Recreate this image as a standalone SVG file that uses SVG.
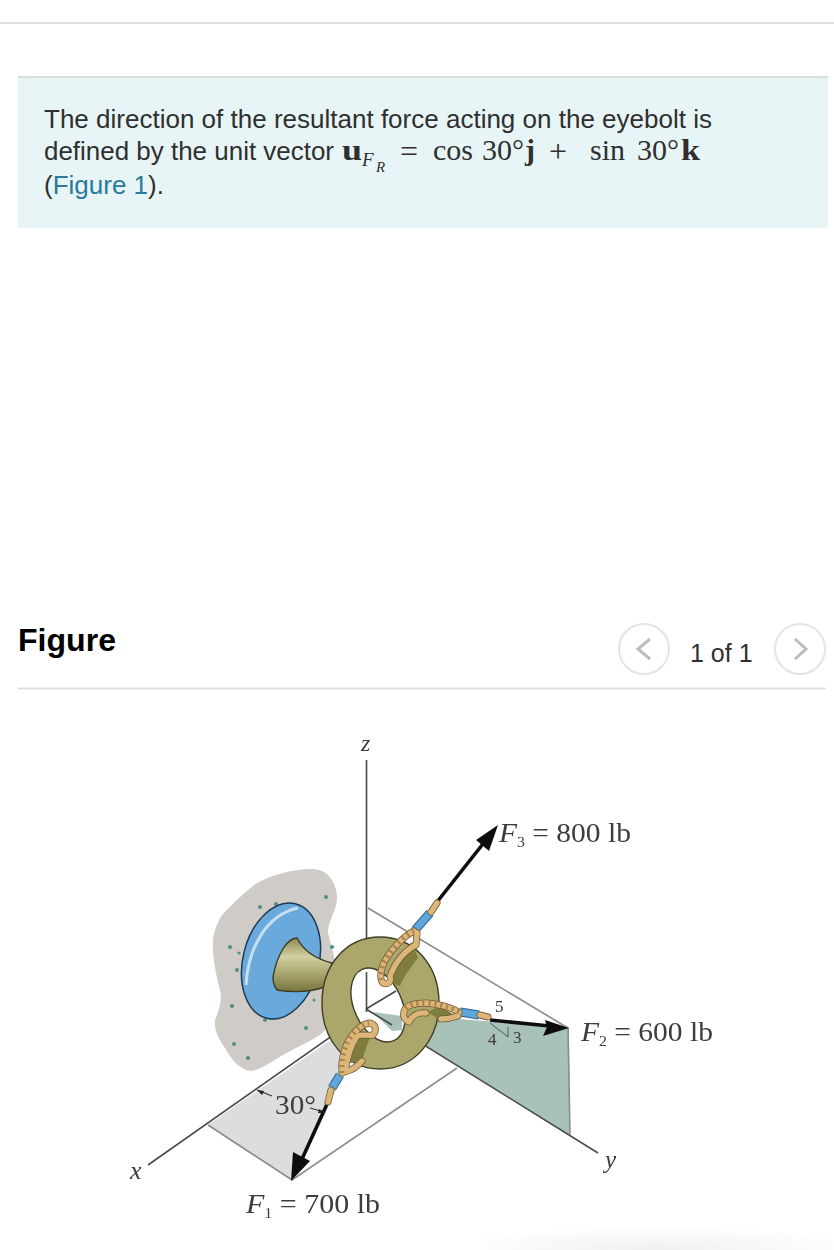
<svg xmlns="http://www.w3.org/2000/svg" width="834" height="1250" viewBox="0 0 834 1250">
<style>
.s{font-family:"Liberation Sans",Arial,sans-serif;fill:#2f2f2f}
.m{font-family:"Liberation Serif","Times New Roman",serif;fill:#2f2f2f}
.f{font-family:"Liberation Serif","Times New Roman",serif;fill:#3c3c3c}
.fi{font-style:italic}
.ax{fill:none;stroke:#4a4a4a;stroke-width:1.6}
.gl{fill:none;stroke:#8c8c8c;stroke-width:1.6}
.fa{fill:none;stroke:#111;stroke-width:3.6}
.ah{fill:#111}
.r1{fill:none;stroke:#6e5a3a;stroke-width:7;stroke-linecap:round;stroke-linejoin:round}
.r2{fill:none;stroke:#dcb678;stroke-width:5.4;stroke-linecap:round;stroke-linejoin:round}
.r3{fill:none;stroke:#a9824a;stroke-width:5;stroke-dasharray:2 4}
.sl{fill:none;stroke:#2f5f8f;stroke-width:9}
.sl2{fill:none;stroke:#5ea6dc;stroke-width:7}
.sh{fill:#7f7d3c}
.nav{fill:#fff;stroke:#e4e4e4;stroke-width:2}
.chev{fill:none;stroke:#bdbdbd;stroke-width:3}
.rule{stroke:#dfdfdf;stroke-width:2}
</style>
<defs>
<linearGradient id="sh" x1="0" y1="0" x2="0" y2="1"><stop offset="0" stop-color="#8c8a52"/><stop offset=".35" stop-color="#d2d0a2"/><stop offset=".7" stop-color="#a3a168"/><stop offset="1" stop-color="#77753f"/></linearGradient>
<radialGradient id="cor" cx=".5" cy="1" r=".6"><stop offset="0" stop-color="#f0f0f0"/><stop offset="1" stop-color="#fff"/></radialGradient>
<filter id="b" x="-5%" y="-5%" width="110%" height="110%"><feGaussianBlur stdDeviation=".65"/></filter>
</defs>
<rect width="834" height="1250" fill="#fff"/>
<rect x="480" y="1210" width="354" height="40" fill="url(#cor)"/>
<line class="rule" x1="0" y1="23" x2="834" y2="23"/>
<g id="prompt">
<rect x="18" y="77" width="810" height="151" fill="#e8f5f6"/>
<line x1="18" y1="77" x2="828" y2="77" stroke="#dcdcdc" stroke-width="2"/>
<text class="s" x="44" y="128" font-size="26" textLength="668" lengthAdjust="spacingAndGlyphs">The direction of the resultant force acting on the eyebolt is</text>
<text class="s" x="44" y="160" font-size="26" textLength="290" lengthAdjust="spacingAndGlyphs">defined by the unit vector</text>
<text class="m" x="342" y="160" font-size="30" font-weight="bold" textLength="20" lengthAdjust="spacingAndGlyphs">u</text>
<text class="m fi" x="362" y="166" font-size="19">F</text>
<text class="m fi" x="376" y="172" font-size="15">R</text>
<text class="m" x="400" y="162" font-size="32">=</text>
<text class="m" x="433" y="160" font-size="30">cos</text>
<text class="m" x="482" y="160" font-size="30">30°</text>
<text class="m" x="525" y="160" font-size="30" font-weight="bold">j</text>
<text class="m" x="549" y="162" font-size="32">+</text>
<text class="m" x="590" y="160" font-size="30">sin</text>
<text class="m" x="637" y="160" font-size="30">30°</text>
<text class="m" x="681" y="160" font-size="30" font-weight="bold" textLength="19" lengthAdjust="spacingAndGlyphs">k</text>
<text class="s" x="44" y="194" font-size="26">(<tspan fill="#2b7a9b">Figure 1</tspan>).</text>
</g>
<g id="figure-header">
<text x="18" y="651" font-family="'Liberation Sans',Arial,sans-serif" font-size="32" font-weight="bold" fill="#000" textLength="98" lengthAdjust="spacingAndGlyphs">Figure</text>
<circle class="nav" cx="644" cy="649" r="25"/>
<path class="chev" d="M650 639L638 649L650 659"/>
<text class="s" x="690" y="662" font-size="25">1 of 1</text>
<circle class="nav" cx="800" cy="649" r="25"/>
<path class="chev" d="M795 639L806 649L795 659"/>
<line class="rule" x1="18" y1="688.500" x2="826" y2="688.500"/>
</g>
<g id="figure" filter="url(#b)">
<path id="plane-x" d="M208 1125L292 1180L340 1082L345 1030Z" fill="#dcdddf"/>
<path id="plane-y" d="M372 1012L569 1028L570 1135L432 1050Z" fill="#a8c1b9"/>
<path id="wall" d="M308 869C322 868 334 874 337 895C338 910 328 920 328 932C330 945 334 950 335 965C338 990 338 1005 333 1013C330 1025 326 1032 315 1038C305 1044 295 1048 285 1054C270 1062 262 1070 250 1071C238 1068 232 1060 225 1048C218 1038 214 1030 215 1020C220 1008 222 1000 220 990C216 975 212 955 213 940C214 930 218 922 222 915C232 905 244 892 257 883C272 875 290 870 308 869Z" fill="#cfcbc7"/>
<g id="wall-dots" fill="#4f9080"><circle cx="260" cy="907" r="2"/><circle cx="276" cy="904" r="2"/><circle cx="326" cy="897" r="2"/><circle cx="230" cy="947" r="2"/><circle cx="239" cy="953" r="1.600"/><circle cx="237" cy="970" r="2"/><circle cx="332" cy="947" r="2"/><circle cx="232" cy="1006" r="2"/><circle cx="234" cy="1044" r="2"/><circle cx="248" cy="1058" r="2"/><circle cx="265" cy="1020" r="2"/><circle cx="306" cy="1028" r="2"/><circle cx="314" cy="1000" r="1.500"/></g>
<g id="connectors">
<line class="ax" x1="366.500" y1="760" x2="366.500" y2="1012"/>
<line class="ax" x1="148" y1="1165" x2="396" y2="991"/>
<line class="ax" x1="366" y1="1009" x2="598" y2="1153"/>
<path class="gl" d="M368 908L568 1028L570 1135M208 1125L292 1180L457 1068"/>
<line class="fa" x1="328" y1="1102" x2="297" y2="1170"/>
<path class="ah" d="M291 1181L293 1152L310 1161Z"/>
<line class="fa" x1="437" y1="902" x2="490" y2="835"/>
<path class="ah" d="M498 825L489 851L476 840Z"/>
<line class="fa" x1="490" y1="1020" x2="550" y2="1026"/>
<path class="ah" d="M569 1028L543 1036L547 1027L545 1020Z"/>
</g>
<g id="eyebolt">
<ellipse cx="281" cy="961" rx="38" ry="59" transform="rotate(14 281 961)" fill="#6aa9dc" stroke="#1f3a52" stroke-width="1.500"/>
<path d="M246 985C248 950 265 915 298 908" fill="none" stroke="#c6def0" stroke-width="3"/>
<path d="M273 977C277 955 287 938 297 938C302 948 312 958 332 963L325 987C310 992 295 993 277 990C274 986 273 982 273 977Z" fill="url(#sh)" stroke="#3d3c20" stroke-width="1.400"/>
<path fill-rule="evenodd" d="M380 937C414 937 439 965 439 1003C439 1040 414 1069 380 1069C346 1069 322 1040 322 1003C322 965 346 937 380 937Z" fill="#aba76c" stroke="#3f3e25" stroke-width="1.400"/>
</g>
<g id="ring-hole">
<ellipse cx="378" cy="1005" rx="39" ry="24" transform="rotate(66 378 1005)" fill="#fff" stroke="#3f3e25" stroke-width="1.400"/>
<line x1="366.500" y1="972" x2="366.500" y2="1012" class="ax"/>
<path d="M366 1009L396 991" class="ax"/>
<path d="M373 1012L402 1016L402 1030L392 1031Z" fill="#a8c1b9"/>
<path d="M366 1009L392 1025" class="ax"/>
<path class="sh" d="M388 982C392 965 402 950 412 942L418 958C410 968 403 978 400 986Z"/>
<path class="sh" d="M440 1020L456 1016L440 1006L428 1012Z"/>
<path class="sh" d="M352 1036L370 1037L362 1060L347 1064Z"/>
</g>
<g id="ropes">
<path class="sl" d="M415 930L430 913"/><path class="sl2" d="M415 930L430 913"/>
<path class="r1" d="M437 903L431 912M414 931C402 937 388 953 383 965C380 972 380 980 383 983C388 985 392 982 390 976C394 966 402 952 416 945L417 933"/>
<path class="r2" d="M437 903L431 912M414 931C402 937 388 953 383 965C380 972 380 980 383 983C388 985 392 982 390 976C394 966 402 952 416 945L417 933"/>
<path class="r3" d="M414 931C402 937 388 953 383 965C380 972 380 980 383 983"/>
<path class="sl" d="M460 1012L479 1015"/><path class="sl2" d="M460 1012L479 1015"/>
<path class="r1" d="M488 1017L480 1015M459 1012C448 1006 438 1004 427 1003C416 1003 408 1005 405 1009C402 1015 404 1020 409 1022C412 1016 416 1012 426 1013M441 1019C448 1019 452 1018 458 1016"/>
<path class="r2" d="M488 1017L480 1015M459 1012C448 1006 438 1004 427 1003C416 1003 408 1005 405 1009C402 1015 404 1020 409 1022C412 1016 416 1012 426 1013M441 1019C448 1019 452 1018 458 1016"/>
<path class="r3" d="M459 1012C448 1006 438 1004 427 1003C416 1003 408 1005 405 1009"/>
<path class="sl" d="M332 1088L340 1075"/><path class="sl2" d="M332 1088L340 1075"/>
<path class="r1" d="M328 1102L331 1090M342 1073C341 1062 343 1050 350 1038C356 1030 362 1024 369 1023C376 1024 377 1030 373 1035C366 1036 360 1034 357 1036C352 1044 347 1056 345 1072C352 1070 358 1066 362 1061"/>
<path class="r2" d="M328 1102L331 1090M342 1073C341 1062 343 1050 350 1038C356 1030 362 1024 369 1023C376 1024 377 1030 373 1035C366 1036 360 1034 357 1036C352 1044 347 1056 345 1072C352 1070 358 1066 362 1061"/>
<path class="r3" d="M342 1073C341 1062 343 1050 350 1038C356 1030 362 1024 369 1023"/>
</g>
<g id="labels">
<text class="f fi" x="361" y="751" font-size="24">z</text>
<text class="f fi" x="130" y="1179" font-size="26">x</text>
<text class="f fi" x="605" y="1168" font-size="25">y</text>
<text class="f" x="275" y="1114" font-size="27" textLength="41" lengthAdjust="spacingAndGlyphs">30°</text>
<path d="M257 1090L272 1096M310 1108L324 1112" stroke="#333" stroke-width="1.200" fill="none"/>
<path d="M257 1090L264 1091L262 1095ZM326 1113L319 1109L318 1113Z" fill="#222"/>
<text class="f" x="495" y="1012" font-size="17">5</text>
<text class="f" x="488" y="1045" font-size="17">4</text>
<text class="f" x="513" y="1043" font-size="17">3</text>
<path d="M490 1023L508 1037L508 1027" stroke="#555" stroke-width="1" fill="none"/>
<text class="f" x="499" y="842" font-size="28" textLength="132" lengthAdjust="spacingAndGlyphs"><tspan class="fi">F</tspan><tspan font-size="15" dy="5">3</tspan><tspan dy="-5"> = 800 lb</tspan></text>
<text class="f" x="581" y="1041" font-size="28" textLength="132" lengthAdjust="spacingAndGlyphs"><tspan class="fi">F</tspan><tspan font-size="15" dy="5">2</tspan><tspan dy="-5"> = 600 lb</tspan></text>
<text class="f" x="246" y="1213" font-size="28" textLength="134" lengthAdjust="spacingAndGlyphs"><tspan class="fi">F</tspan><tspan font-size="15" dy="5">1</tspan><tspan dy="-5"> = 700 lb</tspan></text>
</g>
</g>
</svg>
